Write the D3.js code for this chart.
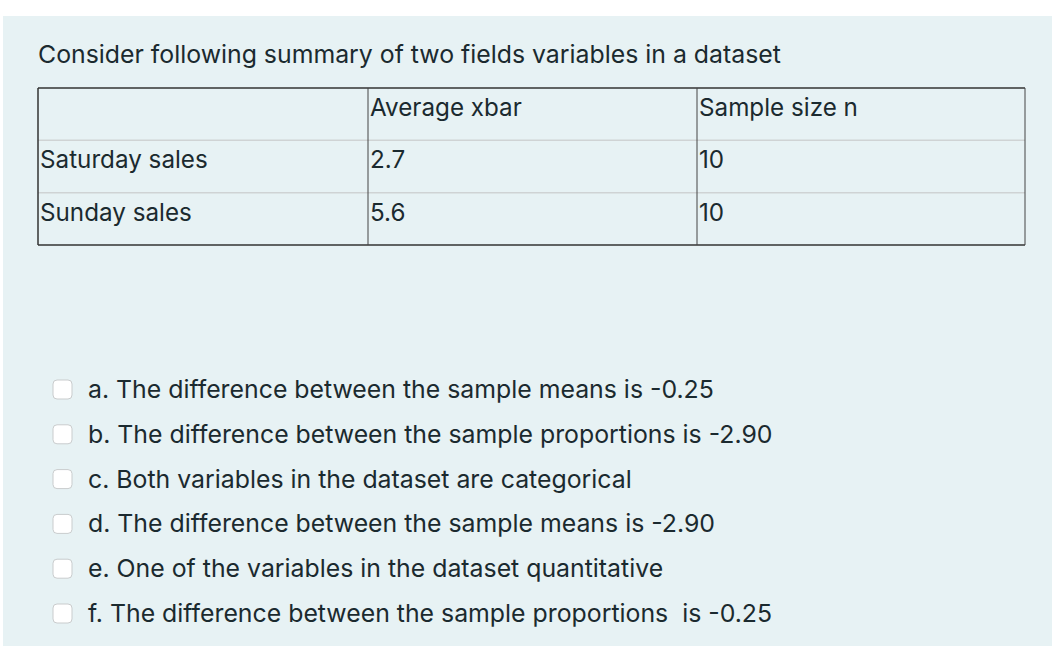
<!DOCTYPE html>
<html><head><meta charset="utf-8">
<script src="https://cdn.jsdelivr.net/npm/d3@7"></script>
<style>body{margin:0;background:#fff}text{font-family:Inter,"Noto Sans",sans-serif;fill:#1b2a2f;white-space:pre}</style>
</head><body><svg id="c" width="1052" height="646"></svg>
<script>
const title = "Consider following summary of two fields variables in a dataset";
const headers = ["", "Average xbar", "Sample size n"];
const rowLabels = ["Saturday sales", "Sunday sales"];
const averages = ["2.7", "5.6"];
const sampleSizes = ["10", "10"];
const options = [
  "a. The difference between the sample means is -0.25",
  "b. The difference between the sample proportions is -2.90",
  "c. Both variables in the dataset are categorical",
  "d. The difference between the sample means is -2.90",
  "e. One of the variables in the dataset quantitative",
  "f. The difference between the sample proportions  is -0.25"
];
const svg = d3.select("#c");
svg.append("rect").attr("x",3).attr("y",16).attr("width",1049).attr("height",630).attr("fill","#e7f2f4");
const tt = svg.append("text").attr("x",38).attr("y",63).attr("font-size",22).text(title);
const fit = (sel, w) => { const cur = sel.node().getComputedTextLength(); sel.attr("font-size", 22*w/cur); };
fit(tt, 743);
const colX = [38, 368, 697, 1025];
const rowY = d3.scaleLinear().domain([0,3]).range([88,245]);
const rows = [headers, ...rowLabels.map((r,i)=>[r, averages[i], sampleSizes[i]])];
const g = svg.append("g");
[1,2].forEach(i=>g.append("line").attr("x1",38).attr("x2",1025).attr("y1",rowY(i)).attr("y2",rowY(i)).attr("stroke","#cfd3d4").attr("stroke-width",1.5));
[0,3].forEach(i=>g.append("line").attr("x1",38).attr("x2",1025).attr("y1",rowY(i)).attr("y2",rowY(i)).attr("stroke","#333").attr("stroke-width",1.3));
colX.forEach((x,i)=>g.append("line").attr("x1",x).attr("x2",x).attr("y1",88).attr("y2",245).attr("stroke", i==0?"#333":"#444").attr("stroke-width", i==0?1.5:1));
const fs = +tt.attr("font-size") - 0.6;
rows.forEach((r,ri)=>r.forEach((t,ci)=>{
  g.append("text").attr("x",colX[ci]+2).attr("y",rowY(ri)+28).attr("font-size",fs).text(t);
}));
const oy = d3.scalePoint().domain(d3.range(options.length)).range([390,614]);
options.forEach((t,i)=>{
  svg.append("rect").attr("x",53).attr("y",oy(i)-10).attr("width",19).attr("height",19).attr("rx",4)
    .attr("fill","#fff").attr("stroke","#c9cccd").attr("stroke-width",1);
  svg.append("text").attr("x",88).attr("y",oy(i)+8).attr("font-size",+tt.attr("font-size")).text(t);
});
</script></body></html>
